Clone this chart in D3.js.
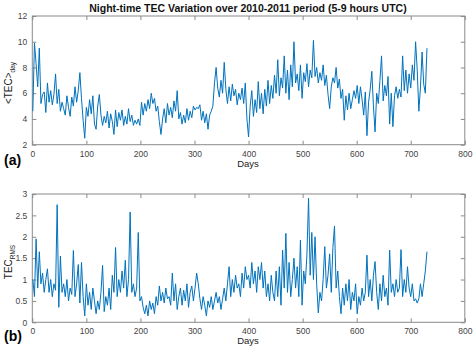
<!DOCTYPE html>
<html><head><meta charset="utf-8">
<script src="https://cdn.jsdelivr.net/npm/d3@7"></script>
<style>body{margin:0;background:#fff}svg{display:block;font-family:"Liberation Sans",Arial,sans-serif}</style>
</head><body><svg id="c" width="474" height="348"></svg>
<script>
// Day sampling: every 3rd day from day 1 to day 730
const dayStart = 1, dayStep = 3;
const xTicks = [0,100,200,300,400,500,600,700,800];
const yTicksA = [2,4,6,8,10,12];
const yTicksB = [0,0.5,1,1.5,2,2.5,3];
const tecDay = [
4.6,9.9,8.3,6.5,9.5,5.2,5.9,6.1,4.5,6.8,
5.3,6.2,5.1,5.9,7.5,5.2,6.3,4.6,5.3,4.8,
4.3,5.8,4.9,4.2,5.7,5.0,6.5,5.3,6.2,7.6,
5.6,3.9,2.5,4.9,4.2,5.5,4.4,5.8,3.6,3.2,
5.0,5.9,4.3,3.5,4.2,3.7,4.6,3.3,4.4,3.8,
2.8,4.7,3.4,4.5,3.9,4.7,3.5,4.2,3.6,4.8,
3.8,4.3,3.5,3.9,3.6,4.0,3.5,5.3,4.3,5.2,
4.6,5.5,4.8,6.0,5.2,5.6,4.6,5.0,3.8,2.8,
4.0,4.8,3.7,5.2,4.3,4.9,4.1,5.4,4.6,6.2,
4.0,4.5,3.6,4.3,3.7,4.8,3.9,4.6,4.1,5.0,
4.7,4.9,4.8,5.1,3.9,4.6,3.7,4.4,3.2,4.3,
4.6,5.0,6.8,8.0,6.4,5.7,7.0,6.0,8.4,6.3,
5.2,6.5,5.4,6.7,5.8,6.3,5.1,6.0,5.5,6.4,
5.2,6.8,4.0,2.6,5.0,6.2,4.2,5.5,4.5,6.9,
4.8,6.0,4.4,6.3,5.0,7.0,5.2,6.6,5.6,7.4,
6.0,8.6,5.8,7.2,6.4,8.9,6.0,7.8,5.5,8.2,
6.5,10.0,6.8,7.5,6.2,8.2,5.6,7.6,6.9,8.3,
6.5,7.8,7.2,10.1,7.3,8.0,6.8,7.6,7.0,8.2,
6.6,7.4,5.9,4.8,6.5,7.2,6.8,8.0,6.4,7.1,
5.6,6.3,3.9,5.8,4.7,6.0,4.8,5.5,6.2,5.6,
6.6,5.2,6.5,5.5,4.3,6.1,2.7,5.3,6.3,7.7,
5.0,3.0,6.0,5.2,7.0,8.9,5.4,6.6,5.8,7.3,
3.6,6.0,3.4,5.8,6.5,5.6,6.3,5.7,8.9,6.2,
7.8,6.0,7.5,6.4,8.2,7.0,10.0,7.8,4.6,6.5,
9.2,6.7,6.0,9.5];
const tecRms = [
1.0,0.6,1.95,0.8,1.65,0.9,1.15,0.7,1.0,1.25,
0.7,1.0,0.6,0.9,0.75,2.75,0.35,1.55,0.7,0.9,
0.6,1.0,0.5,0.8,0.65,1.68,0.6,0.9,1.35,0.45,
1.4,0.6,0.15,0.9,0.4,0.7,0.3,0.8,0.5,0.2,
0.5,0.3,0.7,1.33,0.25,0.6,0.4,0.8,0.3,1.1,
0.7,1.75,0.6,1.0,0.7,1.2,0.8,1.45,0.6,1.0,
2.58,0.7,0.9,0.6,0.8,2.1,0.5,0.6,0.35,0.2,
0.4,0.15,0.5,0.3,0.45,0.2,0.6,0.4,0.85,0.5,
0.7,0.45,0.8,0.55,0.6,0.4,1.15,0.5,0.9,0.3,
0.6,0.8,0.4,0.75,0.5,0.9,0.35,0.7,0.85,0.5,
0.8,1.15,0.9,0.55,0.3,0.6,0.4,0.15,0.5,0.35,
0.6,0.3,0.5,0.7,0.45,0.6,0.3,0.55,0.8,0.5,
0.9,1.3,0.6,1.0,0.7,1.1,0.8,0.9,0.6,1.15,
0.8,1.3,1.0,1.1,0.8,1.4,0.9,1.2,0.7,1.3,
1.0,1.4,0.8,1.2,0.6,0.9,0.5,1.1,0.7,0.5,
1.2,0.6,1.3,0.4,1.69,0.8,2.08,0.7,1.4,0.6,
1.0,1.5,0.8,1.3,0.6,1.92,0.4,1.2,0.9,1.6,
2.9,1.1,2.1,1.0,2.0,0.9,0.22,0.7,0.5,1.0,
1.77,0.8,1.1,1.6,0.7,1.75,2.25,0.8,1.2,0.6,
0.2,0.8,0.4,0.9,0.5,1.0,0.3,0.7,0.5,0.9,
0.2,0.6,0.4,0.8,0.5,0.7,1.57,0.6,1.0,0.5,
1.1,1.42,0.7,0.3,0.9,0.5,1.1,0.6,0.8,0.4,
1.69,0.7,0.9,0.6,1.0,0.7,0.8,1.7,0.6,1.0,
0.7,1.3,0.8,0.6,0.9,0.5,0.55,0.45,0.55,0.9,
0.6,0.9,1.2,1.65];

const svg = d3.select("#c");
const L = 32.3, R = 464.8;
const x = d3.scaleLinear().domain([0,800]).range([L,R]);
const boxColor = "#8a8a8a", tickColor = "#444", lineColor = "#0072BD";

function panel(vals, yDomain, yRange, yTicks, fmt) {
  const y = d3.scaleLinear().domain(yDomain).range(yRange);
  const top = yRange[1], bot = yRange[0];
  const g = svg.append("g");
  g.append("rect").attr("x", L).attr("y", top).attr("width", R-L).attr("height", bot-top)
    .attr("fill","none").attr("stroke",boxColor).attr("stroke-width",1);
  const ax = g.append("g").attr("transform",`translate(0,${bot})`)
    .call(d3.axisBottom(x).tickValues(xTicks).tickSize(-4).tickPadding(6).tickFormat(d3.format("d")));
  const axT = g.append("g").attr("transform",`translate(0,${top})`)
    .call(d3.axisTop(x).tickValues(xTicks).tickSize(-4).tickFormat(""));
  const ay = g.append("g").attr("transform",`translate(${L},0)`)
    .call(d3.axisLeft(y).tickValues(yTicks).tickSize(-4).tickPadding(5).tickFormat(fmt));
  const ayR = g.append("g").attr("transform",`translate(${R},0)`)
    .call(d3.axisRight(y).tickValues(yTicks).tickSize(-4).tickFormat(""));
  [ax,axT,ay,ayR].forEach(a=>{
    a.select(".domain").remove();
    a.selectAll(".tick line").attr("stroke",boxColor);
    a.selectAll("text").attr("fill",tickColor).attr("font-size",8.5)
      .attr("font-family",'"Liberation Sans",Arial,sans-serif');
  });
  const line = d3.line().x((d,i)=>x(dayStart + i*dayStep)).y(d=>y(d));
  g.append("path").datum(vals).attr("d",line).attr("fill","none")
    .attr("stroke",lineColor).attr("stroke-width",1).attr("stroke-linejoin","round");
  return y;
}

panel(tecDay,[2,12],[144.7,16],yTicksA,d3.format("d"));
panel(tecRms,[0,3],[322.3,194],yTicksB,d=>d===0?"0":String(d));

svg.append("text").attr("x",248).attr("y",12).attr("text-anchor","middle")
  .attr("font-size",10.5).attr("font-weight","bold").attr("fill","#111")
  .text("Night-time TEC Variation over 2010-2011 period (5-9 hours UTC)");
svg.append("text").attr("x",248).attr("y",167).attr("text-anchor","middle")
  .attr("font-size",9.5).attr("fill","#222").text("Days");
svg.append("text").attr("x",248).attr("y",344).attr("text-anchor","middle")
  .attr("font-size",9.5).attr("fill","#222").text("Days");
svg.append("text").attr("x",4).attr("y",165).attr("font-size",14).attr("font-weight","bold")
  .attr("fill","#000").text("(a)");
svg.append("text").attr("x",4).attr("y",341).attr("font-size",14).attr("font-weight","bold")
  .attr("fill","#000").text("(b)");
const ya = svg.append("text").attr("transform","translate(12,83) rotate(-90)")
  .attr("text-anchor","middle").attr("font-size",10).attr("fill","#222");
ya.append("tspan").text("<TEC>");
ya.append("tspan").attr("font-size",6.5).attr("dy",2.5).text("day");
const yb = svg.append("text").attr("transform","translate(12,262) rotate(-90)")
  .attr("text-anchor","middle").attr("font-size",10).attr("fill","#222");
yb.append("tspan").text("TEC");
yb.append("tspan").attr("font-size",6.5).attr("dy",2.5).text("RMS");
</script></body></html>
